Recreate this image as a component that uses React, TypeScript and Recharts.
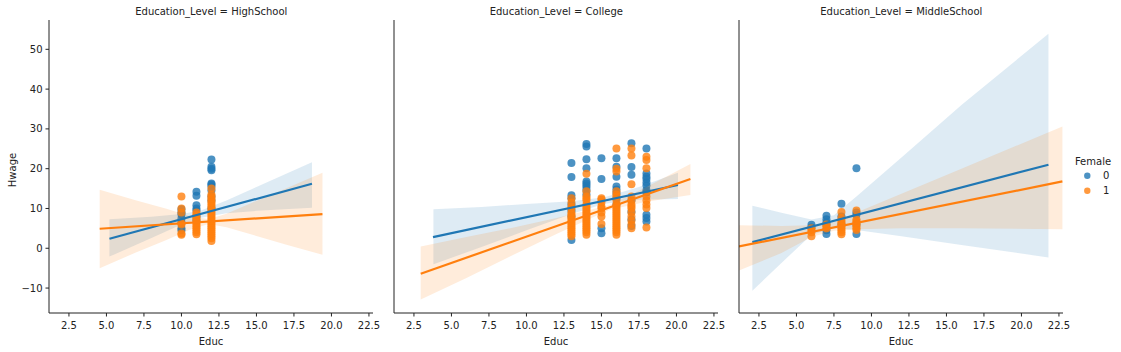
import { Area, ComposedChart, Line, Scatter, XAxis, YAxis } from "recharts";

const BLUE = "#1f77b4";
const ORANGE = "#ff7f0e";

const X_DOMAIN = [1.17, 22.77];
const Y_DOMAIN = [-16.27, 57.37];
const X_TICKS = [2.5, 5, 7.5, 10, 12.5, 15, 17.5, 20, 22.5];
const Y_TICKS = [-10, 0, 10, 20, 30, 40, 50];

const TITLES = [
  "Education_Level = HighSchool",
  "Education_Level = College",
  "Education_Level = MiddleSchool",
];

// Hwage readings per Educ value, Female = 0 (blue) and Female = 1 (orange)
const HS_MALE: [number, number[]][] = [
  [10, [9.8, 9.0, 8.5, 7.5, 6.5, 5.0, 4.5]],
  [11, [14.2, 13.2, 10.8, 10.0, 9.5, 8.0, 7.0]],
  [12, [22.3, 20.5, 20.0, 19.6, 16.3, 16.0, 15.5, 14.5, 13.0, 12.0, 10.0]],
];
const HS_FEMALE: [number, number[]][] = [
  [10, [13.0, 10.0, 9.0, 6.3, 6.0, 3.7, 3.4]],
  [11, [9.0, 8.5, 8.0, 7.5, 7.0, 6.5, 6.0, 5.5, 5.0, 4.5, 4.0, 3.5]],
  [12, [15.0, 13.5, 13.0, 12.5, 12.0, 11.5, 11.0, 10.5, 10.0, 9.5, 9.0, 8.5, 8.0, 7.5, 7.0, 6.5, 6.0, 5.5, 5.0, 4.5, 4.0, 3.5, 3.0, 2.5, 1.8]],
];
const COL_MALE: [number, number[]][] = [
  [13, [21.4, 17.9, 13.3, 12.5, 11.0, 9.5, 8.0, 2.1]],
  [14, [26.2, 25.6, 22.4, 20.1, 16.8, 16.3, 15.8, 15.2, 14.5, 13.5]],
  [15, [22.6, 17.4, 5.0, 3.8]],
  [16, [22.6, 20.5, 18.0, 15.5, 14.8, 13.9, 12.5, 11.0]],
  [17, [26.4, 20.4, 18.5, 12.0, 9.2, 7.2, 5.6]],
  [18, [25.1, 18.8, 18.0, 17.4, 16.5, 15.8, 14.6, 14.0, 8.4, 7.6, 6.7]],
];
const COL_FEMALE: [number, number[]][] = [
  [13, [12.6, 11.5, 10.5, 10.0, 9.0, 8.5, 8.0, 7.5, 7.0, 6.5, 6.0, 5.5, 5.0, 4.5, 4.0, 3.5, 3.0]],
  [14, [18.7, 14.3, 13.0, 12.5, 12.0, 11.0, 10.5, 10.0, 9.5, 9.0, 8.5, 8.0, 7.5, 7.0, 6.5, 6.0, 5.5, 5.0, 4.5, 4.0, 3.4]],
  [15, [12.6, 12.2, 11.5, 10.5, 10.0, 9.0, 8.0, 6.1]],
  [16, [25.1, 20.0, 19.3, 14.3, 13.5, 13.0, 12.0, 11.0, 10.5, 10.0, 9.5, 9.0, 8.5, 8.0, 7.5, 7.0, 6.5, 6.0, 5.5, 5.0, 4.5, 4.0, 3.4]],
  [17, [25.1, 23.3, 16.1, 13.0, 12.0, 11.0, 10.5, 10.0, 9.0, 8.0, 7.0, 6.0, 5.0]],
  [18, [23.0, 22.2, 20.1, 13.0, 12.0, 11.0, 10.1, 5.2]],
];
const MS_MALE: [number, number[]][] = [
  [6, [5.9, 5.2]],
  [7, [8.2, 7.3, 6.5, 5.9, 4.5, 3.6]],
  [8, [11.2, 8.0, 6.0]],
  [9, [20.1, 9.0, 8.4, 6.0, 3.6]],
];
const MS_FEMALE: [number, number[]][] = [
  [6, [5.0, 4.6, 4.0, 3.0]],
  [7, [6.0, 5.5, 5.0]],
  [8, [9.1, 7.6, 7.0, 6.5, 6.0, 5.5, 5.0, 4.5, 4.0, 3.5]],
  [9, [9.5, 7.2, 6.8, 6.4, 6.0, 5.5, 5.0, 4.6]],
];

// fitted lines: [educ, hwage] at both ends
const HS_MALE_FIT = [[5.2, 2.4], [18.7, 16.2]];
const HS_FEMALE_FIT = [[4.55, 4.9], [19.4, 8.6]];
const COL_MALE_FIT = [[3.77, 2.8], [20.1, 15.9]];
const COL_FEMALE_FIT = [[2.95, -6.4], [20.93, 17.4]];
const MS_MALE_FIT = [[2.06, 1.55], [21.8, 21.0]];
const MS_FEMALE_FIT = [[1.17, 0.45], [22.73, 16.8]];

// confidence bands: [educ, low, high]
const HS_MALE_CI = [
  [5.2, -2.1, 7.3], [8, 2.6, 7.9], [10, 6.0, 8.6], [11.3, 7.7, 9.5],
  [13, 8.8, 12.0], [15, 9.4, 15.4], [18.7, 10.2, 21.6],
];
const HS_FEMALE_CI = [
  [4.55, -5.0, 14.7], [7, -1.0, 12.0], [9, 2.1, 9.9], [10.5, 4.6, 8.2],
  [11.8, 6.1, 7.3], [13, 5.3, 8.7], [15, 3.1, 11.9], [17, 0.9, 15.1], [19.4, -1.6, 19.0],
];
const COL_MALE_CI = [
  [3.8, -4.0, 9.8], [7, 0.3, 10.4], [10, 4.5, 11.1], [13, 8.6, 11.8],
  [15.2, 11.2, 12.8], [17.5, 12.2, 15.4], [20.1, 12.4, 19.0],
];
const COL_FEMALE_CI = [
  [2.95, -12.9, 0.45], [6, -7.5, 2.8], [9, -1.9, 5.1], [12, 3.6, 7.6],
  [15.5, 9.6, 10.8], [18, 11.7, 15.4], [20.93, 13.4, 21.2],
];
const MS_MALE_CI = [
  [2.06, -10.7, 10.7], [4, -3.7, 8.9], [6, 3.4, 7.2], [7.5, 5.0, 8.3],
  [9, 4.6, 13.0], [12, 3.0, 22.8], [16, 0.8, 36.0], [21.8, -2.3, 53.9],
];
const MS_FEMALE_CI = [
  [1.17, -5.6, 5.8], [4, -1.2, 5.6], [6, 2.8, 5.8], [7.5, 4.4, 6.6],
  [9, 4.8, 9.0], [12, 5.0, 13.7], [16, 5.0, 20.0], [22.73, 4.8, 30.6],
];

const toPoints = (groups: [number, number[]][]) =>
  groups.flatMap(([x, ys]) => ys.map((y) => ({ x, y })));
const toFit = (rows: number[][]) => rows.map(([x, y]) => ({ x, y }));
const toBand = (rows: number[][]) => rows.map(([x, lo, hi]) => ({ x, lo, hi }));

const fmtY = (v: number) => (v < 0 ? `\u2212${-v}` : `${v}`);

const dot = (color: string) => (p: any) => (
  <circle cx={p.cx} cy={p.cy} r={4} fill={color} fillOpacity={0.8} />
);

type PanelProps = {
  left: number;
  title: string;
  showLabels: boolean;
  male: [number, number[]][];
  female: [number, number[]][];
  maleFit: number[][];
  femaleFit: number[][];
  maleCi: number[][];
  femaleCi: number[][];
};

function Panel(p: PanelProps) {
  const tickStyle = { fontSize: 10, fill: "#222" };
  return (
    <div style={{ position: "absolute", left: p.left, top: 0 }}>
      <div
        style={{
          position: "absolute",
          left: 49,
          top: 5,
          width: 324,
          textAlign: "center",
          fontSize: 10,
          color: "#222",
          lineHeight: "14px",
        }}
      >
        {p.title}
      </div>
      <ComposedChart
        width={385}
        height={352}
        margin={{ top: 20, right: 12, bottom: 0, left: 0 }}
      >
        <XAxis
          type="number"
          dataKey="x"
          domain={X_DOMAIN}
          allowDataOverflow
          ticks={X_TICKS}
          interval={0}
          tickFormatter={(v: number) => v.toFixed(1)}
          tick={tickStyle}
          tickSize={3.5}
          tickMargin={5}
          height={39}
          stroke="#222"
          label={{ value: "Educ", position: "insideBottom", offset: 7, fontSize: 10, fill: "#222" }}
        />
        <YAxis
          type="number"
          dataKey="y"
          domain={Y_DOMAIN}
          allowDataOverflow
          ticks={Y_TICKS}
          interval={0}
          tickFormatter={fmtY}
          tick={p.showLabels ? tickStyle : false}
          tickSize={3.5}
          tickMargin={3}
          width={49}
          stroke="#222"
        />
        <Scatter
          data={toPoints(p.male)}
          shape={dot(BLUE)}
          zIndex={1}
          isAnimationActive={false}
        />
        <Area
          data={toBand(p.maleCi)}
          dataKey={(d: any) => [d.lo, d.hi]}
          type="linear"
          stroke="none"
          fill={BLUE}
          fillOpacity={0.15}
          zIndex={2}
          isAnimationActive={false}
        />
        <Scatter
          data={toPoints(p.female)}
          shape={dot(ORANGE)}
          zIndex={3}
          isAnimationActive={false}
        />
        <Area
          data={toBand(p.femaleCi)}
          dataKey={(d: any) => [d.lo, d.hi]}
          type="linear"
          stroke="none"
          fill={ORANGE}
          fillOpacity={0.15}
          zIndex={4}
          isAnimationActive={false}
        />
        <Line
          data={toFit(p.maleFit)}
          dataKey="y"
          type="linear"
          stroke={BLUE}
          strokeWidth={2.2}
          dot={false}
          zIndex={5}
          isAnimationActive={false}
        />
        <Line
          data={toFit(p.femaleFit)}
          dataKey="y"
          type="linear"
          stroke={ORANGE}
          strokeWidth={2.2}
          dot={false}
          zIndex={6}
          isAnimationActive={false}
        />
      </ComposedChart>
    </div>
  );
}

export default function App() {
  return (
    <div
      style={{
        position: "absolute",
        left: 0,
        top: 0,
        width: 1121,
        height: 352,
        background: "#fff",
        fontFamily: "DejaVu Sans",
        overflow: "hidden",
      }}
    >
      <Panel
        left={0.3}
        title={TITLES[0]}
        showLabels
        male={HS_MALE}
        female={HS_FEMALE}
        maleFit={HS_MALE_FIT}
        femaleFit={HS_FEMALE_FIT}
        maleCi={HS_MALE_CI}
        femaleCi={HS_FEMALE_CI}
      />
      <Panel
        left={345.3}
        title={TITLES[1]}
        showLabels={false}
        male={COL_MALE}
        female={COL_FEMALE}
        maleFit={COL_MALE_FIT}
        femaleFit={COL_FEMALE_FIT}
        maleCi={COL_MALE_CI}
        femaleCi={COL_FEMALE_CI}
      />
      <Panel
        left={690.3}
        title={TITLES[2]}
        showLabels={false}
        male={MS_MALE}
        female={MS_FEMALE}
        maleFit={MS_MALE_FIT}
        femaleFit={MS_FEMALE_FIT}
        maleCi={MS_MALE_CI}
        femaleCi={MS_FEMALE_CI}
      />
      <div
        style={{
          position: "absolute",
          left: 12,
          top: 170,
          transform: "translate(-50%, -50%) rotate(-90deg)",
          fontSize: 10,
          color: "#222",
          whiteSpace: "nowrap",
        }}
      >
        Hwage
      </div>
      <svg
        width={61}
        height={60}
        style={{ position: "absolute", left: 1060, top: 140 }}
      >
        <text x={33} y={24.5} fontSize={10} fill="#222" textAnchor="middle">
          Female
        </text>
        <circle cx={27.3} cy={35.7} r={3.2} fill={BLUE} fillOpacity={0.8} />
        <text x={43} y={39.3} fontSize={10} fill="#222">
          0
        </text>
        <circle cx={27.3} cy={50.7} r={3.2} fill={ORANGE} fillOpacity={0.8} />
        <text x={43} y={54.3} fontSize={10} fill="#222">
          1
        </text>
      </svg>
    </div>
  );
}
